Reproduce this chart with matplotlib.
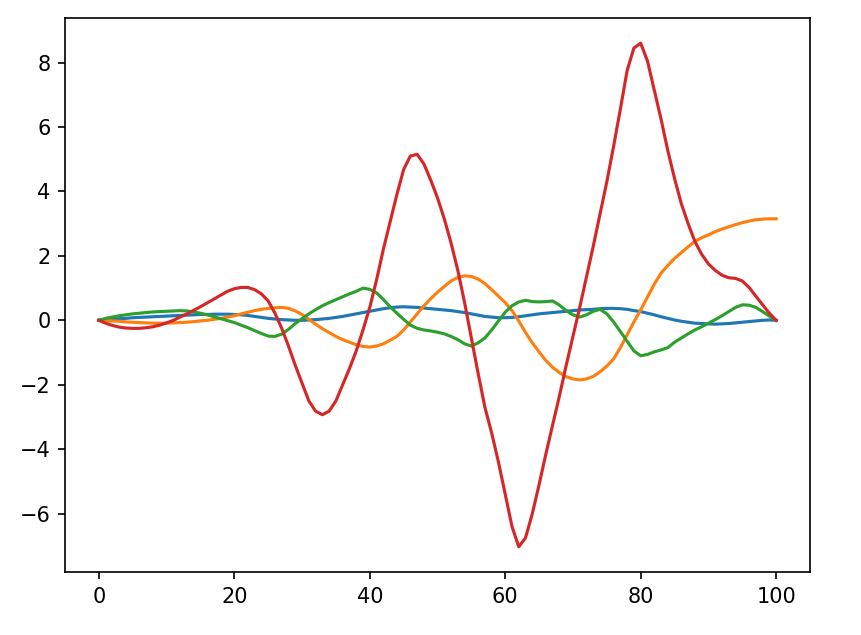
import numpy as np
import matplotlib
matplotlib.use("Agg")
import matplotlib.pyplot as plt

# x grid, one sample per unit
x = np.arange(0, 101)

# values
blue = [0.0, 0.02, 0.03, 0.05, 0.06, 0.08, 0.09, 0.10, 0.11, 0.12,
        0.13, 0.14, 0.15, 0.16, 0.17, 0.18, 0.18, 0.19, 0.19, 0.19,
        0.18, 0.17, 0.15, 0.12, 0.09, 0.06, 0.04, 0.02, 0.01, 0.0,
        0.0, 0.01, 0.02, 0.04, 0.06, 0.09, 0.12, 0.16, 0.20, 0.24,
        0.28, 0.32, 0.36, 0.39, 0.41, 0.42, 0.41, 0.40, 0.38, 0.36,
        0.34, 0.32, 0.30, 0.27, 0.24, 0.20, 0.16, 0.12, 0.10, 0.08,
        0.08, 0.09, 0.11, 0.14, 0.17, 0.20, 0.22, 0.24, 0.26, 0.28,
        0.30, 0.32, 0.33, 0.34, 0.36, 0.37, 0.37, 0.36, 0.34, 0.30,
        0.27, 0.22, 0.17, 0.11, 0.06, 0.01, -0.03, -0.06, -0.09, -0.10,
        -0.11, -0.12, -0.11, -0.10, -0.08, -0.06, -0.04, -0.02, 0.0, 0.01,
        0.0]

orange = [0.0, -0.01, -0.02, -0.03, -0.05, -0.06, -0.07, -0.08, -0.09, -0.09,
          -0.09, -0.08, -0.07, -0.06, -0.04, -0.02, 0.0, 0.03, 0.06, 0.10,
          0.14, 0.20, 0.25, 0.30, 0.34, 0.37, 0.39, 0.40, 0.37, 0.29,
          0.18, 0.03, -0.12, -0.26, -0.38, -0.50, -0.60, -0.68, -0.76, -0.81,
          -0.83, -0.80, -0.73, -0.62, -0.50, -0.30, -0.05, 0.20, 0.45, 0.67,
          0.87, 1.05, 1.22, 1.33, 1.38, 1.36, 1.28, 1.14, 0.95, 0.75,
          0.55, 0.30, -0.02, -0.38, -0.70, -0.98, -1.25, -1.46, -1.62, -1.75,
          -1.82, -1.85, -1.82, -1.74, -1.60, -1.42, -1.20, -0.85, -0.45, -0.05,
          0.32, 0.72, 1.12, 1.46, 1.70, 1.92, 2.10, 2.28, 2.45, 2.56,
          2.65, 2.75, 2.83, 2.90, 2.97, 3.03, 3.08, 3.12, 3.14, 3.15,
          3.15]

green = [0.0, 0.06, 0.10, 0.14, 0.17, 0.20, 0.22, 0.24, 0.26, 0.27,
         0.28, 0.29, 0.30, 0.29, 0.26, 0.22, 0.17, 0.11, 0.05, -0.01,
         -0.07, -0.15, -0.23, -0.32, -0.41, -0.49, -0.50, -0.43, -0.28, -0.10,
         0.05, 0.20, 0.33, 0.45, 0.55, 0.64, 0.73, 0.82, 0.90, 1.00,
         0.96, 0.85, 0.65, 0.42, 0.22, 0.03, -0.15, -0.25, -0.30, -0.33,
         -0.37, -0.42, -0.50, -0.60, -0.73, -0.80, -0.70, -0.55, -0.30, -0.02,
         0.25, 0.45, 0.57, 0.62, 0.58, 0.57, 0.58, 0.60, 0.47, 0.30,
         0.17, 0.10, 0.17, 0.28, 0.34, 0.20, -0.05, -0.35, -0.65, -0.95,
         -1.10, -1.06, -0.98, -0.92, -0.85, -0.68, -0.55, -0.42, -0.30, -0.20,
         -0.09, 0.02, 0.14, 0.27, 0.40, 0.48, 0.47, 0.40, 0.27, 0.13,
         0.0]

red = [0.0, -0.09, -0.16, -0.21, -0.24, -0.25, -0.25, -0.23, -0.20, -0.15,
       -0.08, 0.0, 0.10, 0.20, 0.31, 0.42, 0.54, 0.66, 0.78, 0.90,
       0.98, 1.02, 1.02, 0.95, 0.82, 0.60, 0.22, -0.25, -0.80, -1.40,
       -1.95, -2.50, -2.82, -2.93, -2.82, -2.50, -2.00, -1.50, -0.95, -0.30,
       0.40, 1.25, 2.20, 3.05, 3.90, 4.68, 5.10, 5.15, 4.85, 4.35,
       3.80, 3.15, 2.40, 1.55, 0.55, -0.55, -1.65, -2.70, -3.50, -4.40,
       -5.40, -6.40, -7.03, -6.75, -6.00, -5.10, -4.15, -3.25, -2.35, -1.40,
       -0.50, 0.40, 1.35, 2.30, 3.30, 4.30, 5.40, 6.55, 7.75, 8.45,
       8.60, 8.05, 7.15, 6.25, 5.27, 4.40, 3.62, 3.00, 2.45, 2.05,
       1.75, 1.55, 1.40, 1.32, 1.30, 1.22, 1.02, 0.75, 0.48, 0.22,
       0.0]

fig = plt.figure(figsize=(861 / 150, 635 / 150), dpi=150)
ax = fig.add_axes([65 / 861, 1 - 572 / 635, (810 - 65) / 861, (572 - 18) / 635])

for series in (blue, orange, green, red):
    ax.plot(x, series)

fig.savefig("out.png", dpi=150)
